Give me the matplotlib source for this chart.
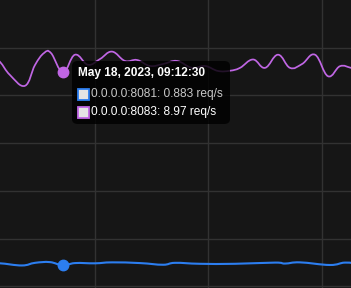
import numpy as np
import matplotlib.pyplot as plt
from matplotlib.path import Path
from matplotlib.patches import PathPatch, FancyBboxPatch, Rectangle

# seconds relative to 09:12:30, values in req/s
t_8083 = [-71, -63, -53, -38, -28, -19, -12, 0, 12, 25, 37, 49, 62, 74, 87, 100, 114, 129, 142,
          155, 167, 177, 190, 202, 215, 227, 239, 252, 265, 277, 288, 297]
v_8083 = [9.65, 9.40, 8.85, 8.40, 9.27, 9.77, 9.77, 8.97, 9.70, 9.28, 9.52, 9.83, 9.44, 9.48,
          9.23, 9.31, 9.44, 9.15, 9.23, 9.02, 9.03, 9.15, 9.50, 9.15, 9.70, 9.15, 9.31, 9.70, 8.80,
          9.22, 9.15, 9.05]
t_8081 = [-71, -63, -41, -28, -13, 0, 12, 32, 49, 77, 100, 112, 137, 172, 212, 222, 237, 267, 282, 297]
v_8081 = [0.93, 0.97, 0.88, 0.99, 1.02, 0.883, 0.98, 0.97, 1.01, 0.98, 0.91, 0.99, 0.95, 0.95,
          1.00, 0.96, 1.01, 0.90, 1.00, 0.94]

grid_t = [31.5, 145, 259]
grid_v = [0, 2, 4, 6, 8, 10]

title = "May 18, 2023, 09:12:30"
rows = ["0.0.0.0:8081: 0.883 req/s", "0.0.0.0:8083: 8.97 req/s"]

bg = "#161616"
blue = "#2c7ef0"
purple = "#c066e4"
W, H = 351, 288


def smooth_path(xs, ys, tension=0.4):
    # chart.js style bezier through the points
    xs = np.asarray(xs, float)
    ys = np.asarray(ys, float)
    verts = [(xs[0], ys[0])]
    codes = [Path.MOVETO]
    n = len(xs)
    for i in range(n - 1):
        p0 = i - 1 if i > 0 else i
        p3 = i + 2 if i + 2 < n else i + 1
        c1 = (xs[i] + (xs[i + 1] - xs[p0]) * tension / 2, ys[i] + (ys[i + 1] - ys[p0]) * tension / 2)
        c2 = (xs[i + 1] - (xs[p3] - xs[i]) * tension / 2, ys[i + 1] - (ys[p3] - ys[i]) * tension / 2)
        verts += [c1, c2, (xs[i + 1], ys[i + 1])]
        codes += [Path.CURVE4] * 3
    return Path(verts, codes)


def fx(x):
    return x / W


def fy(y):
    return 1 - y / H


plt.rcParams['font.family'] = ['Liberation Sans', 'DejaVu Sans']
fig = plt.figure(figsize=(W / 100, H / 100), dpi=100, facecolor=bg)
ax = fig.add_axes([0, 0, 1, 1])
ax.set_facecolor(bg)
ax.set_xlim(-63, 288)
ax.set_ylim(-0.063, 11.99)
ax.set_xticks(grid_t)
ax.set_yticks(grid_v)
ax.grid(True, color="#323232", linewidth=1)
ax.tick_params(length=0, labelbottom=False, labelleft=False)
for s in ax.spines.values():
    s.set_visible(False)

ax.add_patch(PathPatch(smooth_path(t_8083, v_8083), fill=False, edgecolor=purple, lw=1.25, zorder=3))
ax.add_patch(PathPatch(smooth_path(t_8081, v_8081), fill=False, edgecolor=blue, lw=1.5, zorder=3))
ax.plot([0], [8.97], "o", color=purple, ms=7.5, mec=purple, zorder=4)
ax.plot([0], [0.883], "o", color=blue, ms=7.5, mec=blue, zorder=4)

# tooltip
box = FancyBboxPatch((fx(72), fy(124)), fx(158), 63 / H, boxstyle="round,pad=0,rounding_size=0.017",
                     transform=fig.transFigure, facecolor=(0, 0, 0, 0.82), edgecolor="none", zorder=5)
fig.add_artist(box)
fig.text(fx(78), fy(73), title, color="white", fontsize=8.6, fontweight="bold", va="center", zorder=6)
for i, (txt, col, tc) in enumerate(zip(rows, [blue, purple], ["#c8c8c8", "white"])):
    yc = 94 + i * 17.5
    fig.add_artist(Rectangle((fx(78), fy(yc + 6)), 11 / W, 11 / H, transform=fig.transFigure,
                             facecolor="#e4e4e4", edgecolor=col, lw=1.3, zorder=6))
    fig.text(fx(91), fy(yc), txt, color=tc, fontsize=8.6, va="center", zorder=6)

fig.savefig("out.png", dpi=100, facecolor=bg)
